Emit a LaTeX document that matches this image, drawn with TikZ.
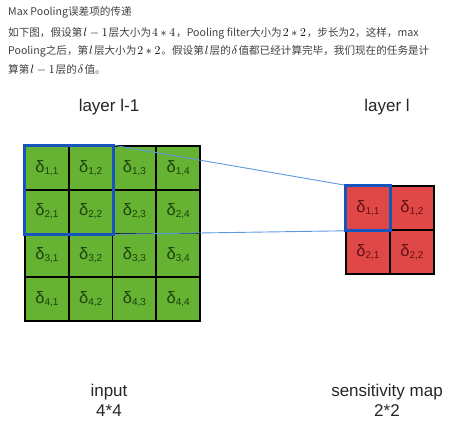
\documentclass[tikz,border=0pt]{standalone}
\usepackage[no-math]{fontspec}
\setmainfont{Liberation Sans}
\newfontfamily\cjk{Noto Sans CJK SC}
\usetikzlibrary{positioning}
\definecolor{cellgreen}{RGB}{102,178,50}
\definecolor{cellred}{RGB}{224,72,72}
\definecolor{txtgreen}{RGB}{28,66,14}
\definecolor{txtred}{RGB}{96,18,18}
\definecolor{poolblue}{RGB}{24,84,190}
\definecolor{linkblue}{RGB}{92,152,222}
\definecolor{prose}{RGB}{64,64,64}
\newcommand{\mth}[1]{\hspace{1pt}{\color{black}\fontsize{13}{13}\selectfont$#1$}\hspace{1pt}}
\newcommand{\dsub}[2]{δ\raisebox{-2pt}{\fontsize{10}{10}\selectfont #1,#2}}
\tikzset{
  gcell/.style={
    draw=black,
    line width=1.6pt,
    fill=cellgreen,
    minimum size=43.75pt,
    inner sep=0pt,
    text=txtgreen,
    font=\fontsize{16.5}{16.5}\selectfont
  },
  rcell/.style={
    gcell,
    fill=cellred,
    minimum size=44pt,
    text=txtred
  },
  pool/.style={draw=poolblue, line width=3pt},
  link/.style={draw=linkblue, line width=0.9pt}
}

\begin{document}
\begin{tikzpicture}[
    x=1pt, y=-1pt,
    prose/.style={anchor=base west, inner sep=0pt, text=prose,
        font=\cjk\fontsize{10.6}{10.6}\selectfont},
    lbl/.style={anchor=base, align=center, text=black!85,
        font=\fontsize{17}{20}\selectfont}
]
\useasboundingbox (0,0) rectangle (474,427);

% top paragraph
\node[prose] (t1) at (8,16)   {Max Pooling误差项的传递};
\node[prose] (t2) at (8,36.5) {如下图，假设第\mth{l-1}层大小为\mth{4*4}，Pooling filter大小为\mth{2*2}，步长为2，这样，max};
\node[prose] (t3) at (8,55)   {Pooling之后，第\mth{l}层大小为\mth{2*2}。假设第\mth{l}层的\mth{\delta}值都已经计算完毕，我们现在的任务是计};
\node[prose] (t4) at (8,74)   {算第\mth{l-1}层的\mth{\delta}值。};

% layer l-1 (4x4) and layer l (2x2)
\foreach \i in {1,...,4}
  \foreach \j in {1,...,4}
    \node[gcell] (g-\i-\j) at ({25+43.75*(\j-0.5)},{146+43.75*(\i-0.5)}) {\dsub{\i}{\j}};
\foreach \i in {1,2}
  \foreach \j in {1,2}
    \node[rcell] (r-\i-\j) at ({346+44*(\j-0.5)},{186+44*(\i-0.5)}) {\dsub{\i}{\j}};

\draw[link] (g-1-2.north east) -- (r-1-1.north west);
\draw[link] (g-2-2.south east) -- (r-1-1.south west);

\draw[pool] (g-1-1.north west) rectangle (g-2-2.south east);
\draw[pool] (r-1-1.north west) rectangle (r-1-1.south east);

% labels (base = last line)
\node[lbl] (lprev) at (109,112) {layer l-1};
\node[lbl] (lcur)  at (387,112) {layer l};
\node[lbl] (inp)   at (109,417) {input\\4*4};
\node[lbl] (smap)  at (387,417) {sensitivity map\\2*2};
\end{tikzpicture}
\end{document}
